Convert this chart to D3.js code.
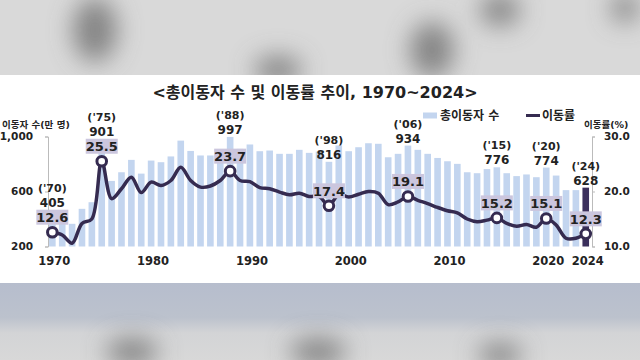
<!DOCTYPE html>
<html><head><meta charset="utf-8">
<script src="https://cdn.jsdelivr.net/npm/d3@7/dist/d3.min.js"></script>
<style>
html,body{margin:0;padding:0;background:#d9d9d9;}
svg{display:block;}
text{font-family:"DejaVu Sans","Noto Sans CJK KR",sans-serif;font-weight:bold;fill:#222;}
</style></head>
<body>
<svg id="c" width="640" height="360"></svg>
<script>
const years = [1970,1971,1972,1973,1974,1975,1976,1977,1978,1979,1980,1981,1982,1983,1984,1985,1986,1987,1988,1989,1990,1991,1992,1993,1994,1995,1996,1997,1998,1999,2000,2001,2002,2003,2004,2005,2006,2007,2008,2009,2010,2011,2012,2013,2014,2015,2016,2017,2018,2019,2020,2021,2022,2023,2024];
// total movers (10k persons)
const movers = [405,395,365,474,522,901,677,740,830,730,825,813,855,970,895,862,862,880,997,910,942,893,898,874,874,903,881,890,816,935,893,922,951,947,849,874,934,903,874,844,820,801,740,733,763,776,733,712,724,704,774,716,610,610,628];
// migration rate (%)
const rates = [12.6,12.1,10.6,14.2,15.0,25.5,18.7,20.5,22.6,19.8,21.7,21.1,22.0,24.4,22.0,20.8,21.0,22.0,23.7,22.0,21.8,20.7,20.5,19.9,19.4,19.7,19.1,19.1,17.4,19.5,19.0,19.5,20.0,19.7,17.6,18.1,19.1,18.4,17.8,17.1,16.5,16.1,15.0,14.5,14.8,15.2,14.2,13.7,14.0,13.5,15.1,13.9,11.5,11.5,12.3];
const highlightYears = [1970,1975,1988,1998,2006,2015,2020,2024];
const highlightTags = ["('70)","('75)","('88)","('98)","('06)","('15)","('20)","('24)"];
const xTickYears = [1970,1980,1990,2000,2010,2020,2024];
const leftTicks = [200,600,1000];
const rightTicks = [10,20,30];
const titleText = "<총이동자 수 및 이동률 추이, 1970~2024>";
const legendBars = "총이동자 수";
const legendLine = "이동률";
const leftTitle = "이동자 수(만 명)";
const rightTitle = "이동률(%)";

const svg = d3.select("#c");
const defs = svg.append("defs");
defs.append("filter").attr("id","blur").attr("x","-50%").attr("y","-50%").attr("width","200%").attr("height","200%")
  .append("feGaussianBlur").attr("stdDeviation",12);
const g1 = defs.append("linearGradient").attr("id","bot").attr("x1",0).attr("y1",0).attr("x2",0).attr("y2",1);
g1.append("stop").attr("offset","0%").attr("stop-color","#b6bdcd");
g1.append("stop").attr("offset","45%").attr("stop-color","#bcc2cd");
g1.append("stop").attr("offset","65%").attr("stop-color","#d3d4d6");
g1.append("stop").attr("offset","100%").attr("stop-color","#d8d8d8");

// background
svg.append("rect").attr("width",640).attr("height",360).attr("fill","#d9d9d9");
svg.append("rect").attr("y",283).attr("width",640).attr("height",77).attr("fill","url(#bot)");
const blobs = [[95,30,22,32],[278,70,24,14],[432,50,22,28],[500,10,20,16],[132,352,26,14],[318,352,28,14],[500,355,22,12],[625,8,14,14]];
svg.append("g").attr("filter","url(#blur)").selectAll("ellipse").data(blobs).join("ellipse")
  .attr("cx",d=>d[0]).attr("cy",d=>d[1]).attr("rx",d=>d[2]).attr("ry",d=>d[3]).attr("fill","#6f6f6f").attr("opacity",0.8);
// white panel
svg.append("rect").attr("x",0).attr("y",75).attr("width",640).attr("height",208).attr("fill","#ffffff");

// scales
const x = d3.scaleBand().domain(years).range([47.4, 47.4 + 55*9.878]).paddingInner(0.33).paddingOuter(0.165);
const yL = d3.scaleLinear().domain([200,1000]).range([246.5,136.5]);
const yR = d3.scaleLinear().domain([10,30]).range([246.5,136.5]);
const cx = d => x(d) + x.bandwidth()/2;

// bars
svg.append("g").selectAll("rect").data(years).join("rect")
  .attr("x",d=>x(d)).attr("width",x.bandwidth())
  .attr("y",(d,i)=>yL(movers[i])).attr("height",(d,i)=>yL(200)-yL(movers[i]))
  .attr("fill",d=>d===2024?"#3b2f5c":"#c3d5ef");

// axes
const axL = d3.axisLeft(yL).tickValues(leftTicks).tickFormat(d3.format(",")).tickSize(3).tickPadding(12);
const gL = svg.append("g").attr("transform","translate(48,0)").call(axL);
gL.select(".domain").attr("stroke","#bbb").attr("stroke-width",1);
gL.selectAll(".tick line").attr("stroke","#bbb");
gL.selectAll(".tick text").attr("font-size",10.5).attr("fill","#222").attr("font-family","DejaVu Sans").attr("font-weight","bold");
const axR = d3.axisRight(yR).tickValues(rightTicks).tickFormat(d3.format(".1f")).tickSize(3).tickPadding(9);
const gR = svg.append("g").attr("transform","translate(592,0)").call(axR);
gR.select(".domain").attr("stroke","#bbb").attr("stroke-width",1);
gR.selectAll(".tick line").attr("stroke","#bbb");
gR.selectAll(".tick text").attr("font-size",10.5).attr("fill","#222").attr("font-family","DejaVu Sans").attr("font-weight","bold");
const axB = d3.axisBottom(x).tickValues(xTickYears).tickSize(0).tickPadding(10);
const gB = svg.append("g").attr("transform","translate(2,247)").call(axB);
gB.select(".domain").remove();
gB.selectAll(".tick text").attr("font-size",11.5).attr("fill","#222").attr("font-family","DejaVu Sans").attr("font-weight","bold");

// line
const line = d3.line().x((d,i)=>cx(years[i])).y(d=>yR(d)).curve(d3.curveCatmullRom.alpha(0.5));
svg.append("path").datum(rates).attr("d",line).attr("fill","none").attr("stroke","#352b50").attr("stroke-width",3.5).attr("stroke-linejoin","round");

// highlights
const hl = highlightYears.map((yr,k)=>{const i=years.indexOf(yr);return {yr,tag:highlightTags[k],c:movers[i],r:rates[i]};});
const ann = svg.append("g");
hl.forEach(h=>{
  const px = cx(h.yr), py = yR(h.r);
  const boxC = py - 15;
  ann.append("rect").attr("x",px-16).attr("y",boxC-7.5).attr("width",32).attr("height",15).attr("fill","#cbc6de");
  ann.append("text").attr("x",px).attr("y",boxC+5).attr("text-anchor","middle").attr("font-size",13).text(h.r.toFixed(1));
  ann.append("circle").attr("cx",px).attr("cy",py).attr("r",4.8).attr("fill","#fff").attr("stroke","#352b50").attr("stroke-width",3);
  const base = Math.min(yL(h.c)-3, boxC-10.5);
  ann.append("text").attr("x",px).attr("y",base).attr("text-anchor","middle").attr("font-size",12).text(h.c);
  ann.append("text").attr("x",px).attr("y",base-15).attr("text-anchor","middle").attr("font-size",11).text(h.tag);
});

// title
svg.append("text").attr("x",315).attr("y",98).attr("text-anchor","middle").attr("font-size",16).attr("fill","#1a1a1a").text(titleText);
// legend
svg.append("rect").attr("x",423).attr("y",112.5).attr("width",14).attr("height",6).attr("fill","#c3d5ef");
svg.append("text").attr("x",440).attr("y",120).attr("font-size",12).text(legendBars);
svg.append("line").attr("x1",526).attr("x2",540).attr("y1",115.5).attr("y2",115.5).attr("stroke","#352b50").attr("stroke-width",3);
svg.append("text").attr("x",542).attr("y",120).attr("font-size",12).text(legendLine);
// axis titles
svg.append("text").attr("x",2).attr("y",128).attr("font-size",9.5).attr("fill","#333").text(leftTitle);
svg.append("text").attr("x",584).attr("y",128).attr("font-size",9.5).attr("fill","#333").text(rightTitle);
</script>
</body></html>
